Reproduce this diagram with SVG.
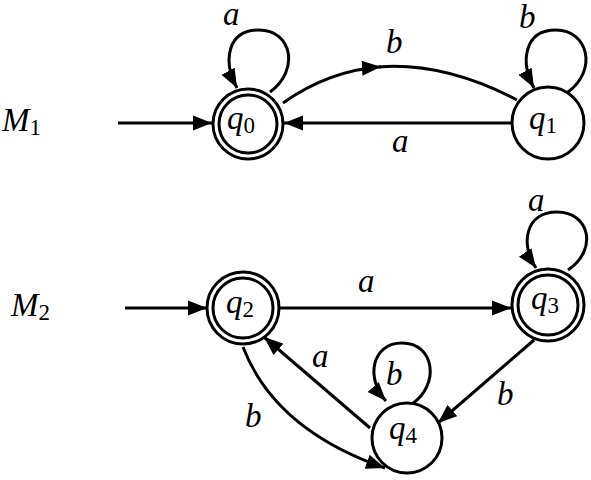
<svg xmlns="http://www.w3.org/2000/svg" width="591" height="480" viewBox="0 0 591 480">
<style>
.n{fill:#fff;stroke:#000;stroke-width:3}
.e{fill:none;stroke:#000;stroke-width:3}
.t{font-family:"Liberation Serif",serif;font-style:italic;font-size:33px;fill:#000}
.s{font-style:normal;font-size:23px}
</style>
<defs>
<marker id="ah" markerUnits="userSpaceOnUse" markerWidth="20" markerHeight="16" viewBox="0 0 20 16" refX="19" refY="8" orient="auto">
<path d="M0,0.5 L19,8 L0,15.5 Z" fill="#000"/>
</marker>
</defs>
<g id="connectors">
<path class="e" d="M118 123 L212 123" marker-end="url(#ah)"/>
<path class="e" d="M270 92 C300 70 292 30 259 30 C228 30 222 60 237 88" marker-end="url(#ah)"/>
<path class="e" d="M283 103 Q328.9 70.6 380.9 66.8" marker-end="url(#ah)"/>
<path class="e" d="M379 66.9 Q444.4 62 517 100"/>
<path class="e" d="M511 123 L284 123" marker-end="url(#ah)"/>
<path class="e" d="M568 92 C598 70 588 30 556 30 C524 30 520 62 534 88" marker-end="url(#ah)"/>
<path class="e" d="M125 308 L207 308" marker-end="url(#ah)"/>
<path class="e" d="M280 308 L511 308" marker-end="url(#ah)"/>
<path class="e" d="M568 270 C598 250 590 212 557 212 C525 212 520 245 536 268" marker-end="url(#ah)"/>
<path class="e" d="M534 340 L438 423" marker-end="url(#ah)"/>
<path class="e" d="M370 428 L264 337" marker-end="url(#ah)"/>
<path class="e" d="M243 347 Q275 430 385 468" marker-end="url(#ah)"/>
<path class="e" d="M412 404 C440 385 435 343 402 343 C372 343 365 378 386 401" marker-end="url(#ah)"/>
</g>
<g id="labels">
<text class="t" x="2" y="131">M<tspan class="s" dy="4">1</tspan></text>
<text class="t" x="11" y="316">M<tspan class="s" dy="4">2</tspan></text>
<text class="t" x="223" y="25">a</text>
<text class="t" x="386" y="53">b</text>
<text class="t" x="392" y="152">a</text>
<text class="t" x="519" y="28">b</text>
<text class="t" x="358" y="292">a</text>
<text class="t" x="528" y="211">a</text>
<text class="t" x="312" y="367">a</text>
<text class="t" x="386" y="385">b</text>
<text class="t" x="497" y="405">b</text>
<text class="t" x="245" y="427">b</text>
</g>
<g id="q0">
<circle class="n" cx="248" cy="124" r="35"/>
<circle class="n" cx="248" cy="124" r="29"/>
<text class="t" x="227" y="129">q<tspan class="s" dy="4">0</tspan></text>
</g>
<g id="q1">
<circle class="n" cx="548" cy="123" r="36"/>
<text class="t" x="529" y="129">q<tspan class="s" dy="4">1</tspan></text>
</g>
<g id="q2">
<circle class="n" cx="243" cy="308" r="36"/>
<circle class="n" cx="243" cy="308" r="30"/>
<text class="t" x="226" y="313">q<tspan class="s" dy="4">2</tspan></text>
</g>
<g id="q3">
<circle class="n" cx="548" cy="305" r="36"/>
<circle class="n" cx="548" cy="305" r="30"/>
<text class="t" x="531" y="309">q<tspan class="s" dy="4">3</tspan></text>
</g>
<g id="q4">
<circle class="n" cx="407" cy="438" r="35"/>
<text class="t" x="389" y="439">q<tspan class="s" dy="4">4</tspan></text>
</g>
</svg>
